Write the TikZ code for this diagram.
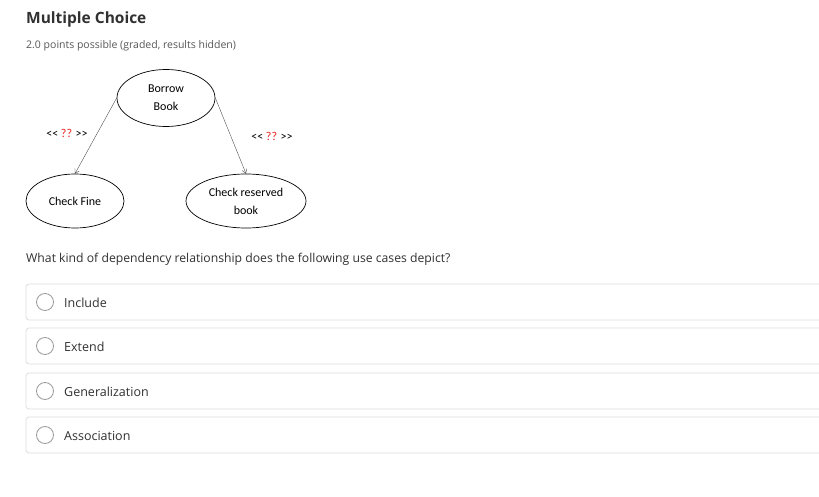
\documentclass[tikz,border=0pt]{standalone}
\usepackage{fontspec}
\setmainfont{Open Sans}
\newfontfamily\diagfont{Carlito}
\usetikzlibrary{shapes.geometric,arrows.meta,positioning}
\newcommand*{\pageW}{819}
\newcommand*{\pageH}{497}
\newcommand*{\boxL}{26}
\newcommand*{\boxH}{36}
\definecolor{titlegray}{HTML}{313131}
\definecolor{subgray}{HTML}{575757}
\definecolor{boxgray}{HTML}{DDDDDD}
\definecolor{radiogray}{HTML}{9A9A9A}
\definecolor{qred}{HTML}{E8231E}
\tikzset{
	usecase/.style={draw,ellipse,inner sep=0pt,line width=.7pt,font=\diagfont\fontsize{12}{18}\selectfont,align=center},
	dep/.style={-{Straight Barb[length=4pt,width=5pt]},line width=.35pt,draw=black!75},
	stereo/.style={font=\diagfont\fontsize{12}{14}\selectfont},
	optbox/.style={draw=boxgray,line width=.8pt,rounded corners=3pt},
	opttext/.style={anchor=west,inner sep=0pt,font=\fontsize{12.5}{15}\selectfont,text=titlegray}
}

\begin{document}
\begin{tikzpicture}[x=1pt,y=-1pt]
	\useasboundingbox[fill=white] (0,0) rectangle (\pageW,\pageH);
	\clip (0,0) rectangle (\pageW,\pageH);
	
	% heading
	\node[anchor=west,inner sep=0pt,text=titlegray,font=\fontsize{15.5}{19}\selectfont\bfseries] (title) at (26,19) {Multiple Choice};
	\node[anchor=west,inner sep=0pt,text=subgray,font=\fontsize{10.5}{12}\selectfont] (points) at (26,46) {2.0 points possible (graded, results hidden)};
	
	% use case diagram
	\node[usecase,minimum width=98,minimum height=57] (borrow) at (166,98) {Borrow\\Book};
	\node[usecase,minimum width=98,minimum height=54] (fine) at (75,201) {Check Fine};
	\node[usecase,minimum width=120,minimum height=54] (reserved) at (246,201) {Check reserved\\book};
	\draw[dep] (borrow.west) -- (fine.north);
	\draw[dep] (borrow.east) -- (reserved.north);
	\node[stereo] (leftlab) at (67,133) {<< \textcolor{qred}{??} >>};
	\node[stereo] (rightlab) at (272,136) {<< \textcolor{qred}{??} >>};
	
	% question
	\node[anchor=west,inner sep=0pt,text=titlegray,font=\fontsize{12.2}{15}\selectfont] (question) at (26,259) {What kind of dependency relationship does the following use cases depict?};
	
	% answers
	\foreach \y/\txt [count=\i] in {284/Include,328/Extend,373/Generalization,417/Association} {
		\draw[optbox] (\boxL,\y) rectangle (\pageW+20,\y+\boxH);
		\node[circle,draw=radiogray,line width=.8pt,minimum size=17,inner sep=0pt] (radio\i) at (45,\y+\boxH/2) {};
		\node[opttext] (opt\i) at (64,\y+\boxH/2+1) {\txt};
	}
\end{tikzpicture}
\end{document}
